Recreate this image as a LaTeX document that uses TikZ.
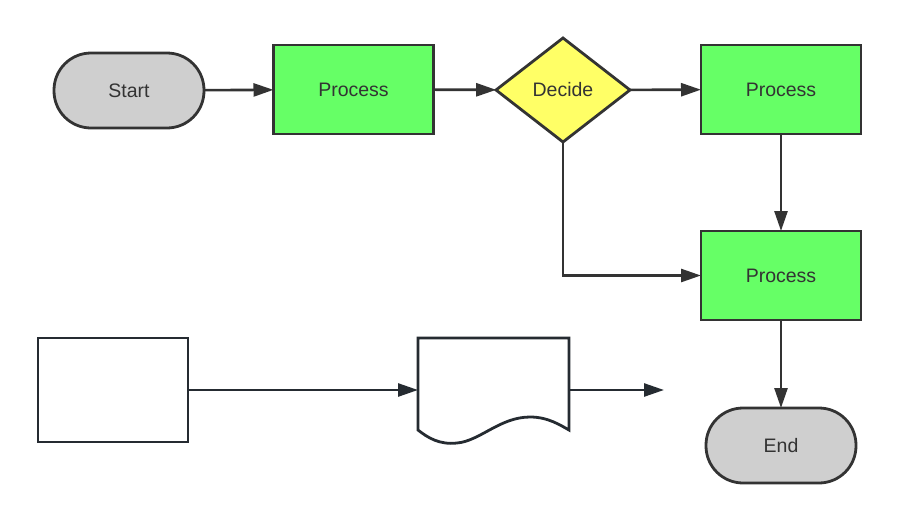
\documentclass[tikz,border=0pt]{standalone}
\usepackage{fontspec}
\setmainfont{Liberation Sans}
\usetikzlibrary{shapes.geometric,arrows.meta}
\definecolor{edge}{HTML}{333333}
\definecolor{edgeb}{HTML}{252B31}
\definecolor{txt}{HTML}{333333}
\definecolor{grayfill}{HTML}{CFCFCF}
\definecolor{greenfill}{HTML}{66FF66}
\definecolor{yellowfill}{HTML}{FFFF66}
\tikzset{
  base/.style={draw=edge, line width=2.8pt, text=txt, font=\fontsize{19.5}{22}\selectfont, inner sep=0pt, outer sep=0pt},
  terminal/.style={base, fill=grayfill, rectangle, rounded corners=37pt, minimum width=150pt, minimum height=75pt},
  procbox/.style={base, fill=greenfill, rectangle, minimum width=160pt, minimum height=89pt},
  decision/.style={base, fill=yellowfill, diamond, minimum width=134pt, minimum height=104pt},
  plainbox/.style={draw=edgeb, line width=2.8pt, fill=white, rectangle, minimum width=150pt, minimum height=104pt, inner sep=0pt, outer sep=0pt},
  conn/.style={draw=edge, line width=2.6pt, -{Triangle[length=20pt,width=13pt]}},
  connb/.style={draw=edgeb, line width=2.6pt, -{Triangle[length=20pt,width=13pt]}},
}
\begin{document}
\begin{tikzpicture}[x=1pt,y=-1pt]
\useasboundingbox[fill=white] (0,0) rectangle (898,520);
\node[terminal] (start) at (129,90.5) {Start};
\node[procbox] (p1) at (353.5,89.5) {Process};
\node[decision] (dec) at (563,90) {Decide};
\node[procbox] (p2) at (781,89.5) {Process};
\node[procbox] (p3) at (781,275.5) {Process};
\node[terminal] (end) at (781,445.5) {End};
\node[plainbox] (box) at (113,390) {};
\node[minimum width=151pt, minimum height=104pt, inner sep=0pt, outer sep=0pt] (doc) at (493.5,390) {};
\draw[draw=edgeb, line width=2.8pt, fill=white, line join=miter]
  (doc.north west) -- (doc.north east) -- ([yshift=12pt]doc.south east)
  .. controls (560,425) and (548,417) .. (530,417)
  .. controls (500,417) and (480,441) .. (457,443)
  .. controls (440,445) and (428,438) .. ([yshift=12pt]doc.south west) -- cycle;
\coordinate (free) at (664,390);
\draw[conn] (start) -- (p1);
\draw[conn] (p1) -- (dec);
\draw[conn] (dec) -- (p2);
\draw[conn] (p2) -- (p3);
\draw[conn] (dec.south) |- (p3.west);
\draw[conn] (p3) -- (end);
\draw[connb] (box.east) -- (doc.west);
\draw[connb] (doc.east) -- (free);
\end{tikzpicture}
\end{document}
